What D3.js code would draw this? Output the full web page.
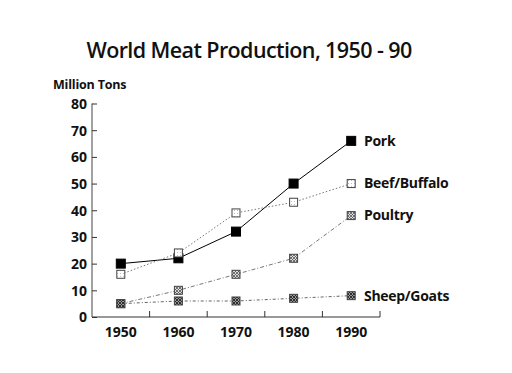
<!DOCTYPE html>
<html>
<head>
<meta charset="utf-8">
<script src="https://cdn.jsdelivr.net/npm/d3@7"></script>
<style>
  body { margin: 0; background: #fff; }
  text { font-family: "Open Sans", sans-serif; fill: #111; }
</style>
</head>
<body>
<div id="content"></div>
<script>
const svgWidth = 512, svgHeight = 373;

const years = ["1950", "1960", "1970", "1980", "1990"];
const pork = [20, 22, 32, 50, 66];
const beef = [16, 24, 39, 43, 50];
const poultry = [5, 10, 16, 22, 38];
const sheep = [5, 6, 6, 7, 8];
const yTicks = [0, 10, 20, 30, 40, 50, 60, 70, 80];

const seriesList = [
  { name: "Pork", values: pork, fill: "#000", stroke: "#000", dash: null, size: 9 },
  { name: "Beef/Buffalo", values: beef, fill: "url(#dots)", stroke: "#777", dash: "1.5,2", size: 8 },
  { name: "Poultry", values: poultry, fill: "url(#hatch)", stroke: "#777", dash: "4,2,1,2", size: 8 },
  { name: "Sheep/Goats", values: sheep, fill: "url(#hatchDark)", stroke: "#666", dash: "3,2,1,2", size: 8 }
];

const svg = d3.select("#content").append("svg")
  .attr("width", svgWidth)
  .attr("height", svgHeight);

// marker fills
const defs = svg.append("defs");
const dots = defs.append("pattern").attr("id", "dots")
  .attr("width", 3).attr("height", 3).attr("patternUnits", "userSpaceOnUse");
dots.append("rect").attr("width", 3).attr("height", 3).attr("fill", "#fff");
dots.append("rect").attr("width", 1).attr("height", 1).attr("fill", "#bbb");

const hatch = defs.append("pattern").attr("id", "hatch")
  .attr("width", 3).attr("height", 3).attr("patternUnits", "userSpaceOnUse");
hatch.append("rect").attr("width", 3).attr("height", 3).attr("fill", "#ddd");
hatch.append("path").attr("d", "M0,0L3,3M3,0L0,3").attr("stroke", "#555").attr("stroke-width", 0.8);

const hatchDark = defs.append("pattern").attr("id", "hatchDark")
  .attr("width", 3).attr("height", 3).attr("patternUnits", "userSpaceOnUse");
hatchDark.append("rect").attr("width", 3).attr("height", 3).attr("fill", "#999");
hatchDark.append("path").attr("d", "M0,0L3,3M3,0L0,3").attr("stroke", "#222").attr("stroke-width", 0.9);

const x = d3.scaleBand().domain(years).range([92, 380]);
const y = d3.scaleLinear().domain([0, 80]).range([317, 103.5]);

// title
svg.append("text")
  .attr("x", 249).attr("y", 58)
  .attr("text-anchor", "middle")
  .style("font-size", "21.5px")
  .style("font-weight", 600)
  .style("letter-spacing", "-0.6px")
  .text("World Meat Production, 1950 - 90");

svg.append("text")
  .attr("x", 53).attr("y", 89)
  .style("font-size", "12.5px").style("font-weight", 700)
  .style("letter-spacing", "-0.2px")
  .text("Million Tons");

// y axis
const yAxis = svg.append("g")
  .attr("transform", "translate(92,0)")
  .call(d3.axisRight(y).tickValues(yTicks).tickSize(5).tickFormat(d3.format("d")));
yAxis.select(".domain").attr("stroke", "#444").attr("d", "M0,103.5V317");
yAxis.selectAll(".tick line").attr("stroke", "#333");
yAxis.selectAll(".tick text")
  .attr("x", -5).attr("dy", "0.35em")
  .attr("text-anchor", "end")
  .style("font-size", "14px").style("font-weight", 700).attr("fill", "#111");

// x axis: ticks between categories
const xAxis = svg.append("g").attr("transform", "translate(0,317)");
xAxis.append("line").attr("x1", 92).attr("x2", 380).attr("stroke", "#333");
xAxis.selectAll(".xt").data(years).enter().append("line")
  .attr("x1", d => x(d) + x.bandwidth()).attr("x2", d => x(d) + x.bandwidth())
  .attr("y1", 0).attr("y2", -6).attr("stroke", "#333");
xAxis.selectAll(".xl").data(years).enter().append("text")
  .attr("x", d => x(d) + x.bandwidth() / 2)
  .attr("y", 20)
  .attr("text-anchor", "middle")
  .style("font-size", "14px").style("font-weight", 700)
  .text(d => d);

const line = d3.line()
  .x((d, i) => x(years[i]) + x.bandwidth() / 2)
  .y(d => y(d));

seriesList.forEach(s => {
  svg.append("path")
    .datum(s.values)
    .attr("d", line)
    .attr("fill", "none")
    .attr("stroke", s.stroke)
    .attr("stroke-width", 1)
    .attr("stroke-dasharray", s.dash);

  svg.selectAll(null).data(s.values).enter().append("rect")
    .attr("x", (d, i) => x(years[i]) + x.bandwidth() / 2 - s.size / 2)
    .attr("y", d => y(d) - s.size / 2)
    .attr("width", s.size).attr("height", s.size)
    .attr("fill", s.fill)
    .attr("stroke", s.name === "Pork" ? "#000" : "#444")
    .attr("stroke-width", 1);

  svg.append("text")
    .attr("x", 364)
    .attr("y", y(s.values[s.values.length - 1]))
    .attr("dy", "0.35em")
    .style("font-size", "14px").style("font-weight", 700)
    .style("letter-spacing", "-0.3px")
    .text(s.name);
});
</script>
</body>
</html>
